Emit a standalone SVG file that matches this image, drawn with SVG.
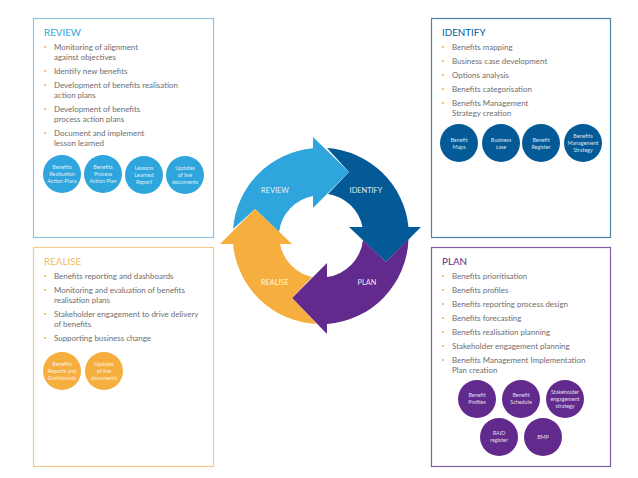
<svg xmlns="http://www.w3.org/2000/svg" width="638" height="478" viewBox="0 0 638 478">
<style>
text{font-family:"Lato","Open Sans","Liberation Sans",sans-serif}
.item{font-size:7.95px;fill:#6d6e71}
.title{font-size:9.8px}
.panel{fill:#fff;stroke-width:1.2}
.c{font-size:5.4px;fill:#fff;text-anchor:middle;fill-opacity:.85}
.ring{font-size:7.4px;fill:#fff;text-anchor:middle;fill-opacity:.9}
.b{fill:#f5b04a}
.blue{fill:#2fa5dd}.navy{fill:#045a97}.purple{fill:#622a8c}.orange{fill:#f6ae3f}
</style>
<rect width="638" height="478" fill="#fff"/>
<g id="review">
<rect class="panel" x="33.500" y="18.500" width="180" height="219" stroke="#8cc5db"/>
<text class="title" x="44" y="36" fill="#2fa5dd">REVIEW</text>
<circle class="b" cx="45" cy="47" r="1"/><text class="item" x="54" y="50">Monitoring of alignment</text><text class="item" x="54" y="60">against objectives</text>
<circle class="b" cx="45" cy="71" r="1"/><text class="item" x="54" y="74">Identify new benefits</text>
<circle class="b" cx="45" cy="85" r="1"/><text class="item" x="54" y="88">Development of benefits realisation</text><text class="item" x="54" y="98">action plans</text>
<circle class="b" cx="45" cy="109" r="1"/><text class="item" x="54" y="112">Development of benefits</text><text class="item" x="54" y="122">process action plans</text>
<circle class="b" cx="45" cy="133" r="1"/><text class="item" x="54" y="136">Document and implement</text><text class="item" x="54" y="146">lesson learned</text>
</g>
<g id="review-1"><circle class="blue" cx="62" cy="174" r="19"/><text class="c" x="62" y="169">Benefits</text><text class="c" x="62" y="176">Realisation</text><text class="c" x="62" y="183">Action Plans</text></g>
<g id="review-2"><circle class="blue" cx="103" cy="174" r="19"/><text class="c" x="103" y="169">Benefits</text><text class="c" x="103" y="176">Process</text><text class="c" x="103" y="183">Action Plan</text></g>
<g id="review-3"><circle class="blue" cx="144" cy="175" r="19"/><text class="c" x="144" y="170">Lessons</text><text class="c" x="144" y="177">Learned</text><text class="c" x="144" y="184">Report</text></g>
<g id="review-4"><circle class="blue" cx="185" cy="175" r="19"/><text class="c" x="185" y="170">Updates</text><text class="c" x="185" y="177">of live</text><text class="c" x="185" y="184">documents</text></g>

<g id="identify">
<rect class="panel" x="431.500" y="18.500" width="179" height="219" stroke="#4f81a3"/>
<text class="title" x="442" y="36" fill="#045a97">IDENTIFY</text>
<circle class="b" cx="443" cy="47" r="1"/><text class="item" x="452" y="50">Benefits mapping</text>
<circle class="b" cx="443" cy="61" r="1"/><text class="item" x="452" y="64">Business case development</text>
<circle class="b" cx="443" cy="75" r="1"/><text class="item" x="452" y="78">Options analysis</text>
<circle class="b" cx="443" cy="89" r="1"/><text class="item" x="452" y="92">Benefits categorisation</text>
<circle class="b" cx="443" cy="103" r="1"/><text class="item" x="452" y="106">Benefits Management</text><text class="item" x="452" y="116">Strategy creation</text>
</g>
<g id="identify-1"><circle class="navy" cx="459" cy="143" r="19"/><text class="c" x="459" y="142">Benefit</text><text class="c" x="459" y="149">Maps</text></g>
<g id="identify-2"><circle class="navy" cx="501" cy="143" r="19"/><text class="c" x="501" y="142">Business</text><text class="c" x="501" y="149">case</text></g>
<g id="identify-3"><circle class="navy" cx="541" cy="143" r="19"/><text class="c" x="541" y="142">Benefit</text><text class="c" x="541" y="149">Register</text></g>
<g id="identify-4"><circle class="navy" cx="583" cy="143" r="19"/><text class="c" x="583" y="138">Benefits</text><text class="c" x="583" y="145">Management</text><text class="c" x="583" y="152">Strategy</text></g>

<g id="realise">
<rect class="panel" x="33.500" y="247.500" width="180" height="219" stroke="#f0cb8a"/>
<text class="title" x="44" y="265" fill="#f0b860">REALISE</text>
<circle class="b" cx="45" cy="276" r="1"/><text class="item" x="54" y="279">Benefits reporting and dashboards</text>
<circle class="b" cx="45" cy="290" r="1"/><text class="item" x="54" y="293">Monitoring and evaluation of benefits</text><text class="item" x="54" y="303">realisation plans</text>
<circle class="b" cx="45" cy="314" r="1"/><text class="item" x="54" y="317">Stakeholder engagement to drive delivery</text><text class="item" x="54" y="327">of benefits</text>
<circle class="b" cx="45" cy="338" r="1"/><text class="item" x="54" y="341">Supporting business change</text>
</g>
<g id="realise-1"><circle class="orange" cx="62" cy="371" r="19"/><text class="c" x="62" y="366">Benefits</text><text class="c" x="62" y="373">Reports and</text><text class="c" x="62" y="380">Dashboards</text></g>
<g id="realise-2"><circle class="orange" cx="104" cy="371" r="19"/><text class="c" x="104" y="366">Updates</text><text class="c" x="104" y="373">of live</text><text class="c" x="104" y="380">documents</text></g>

<g id="plan">
<rect class="panel" x="431.500" y="247.500" width="179" height="219" stroke="#7f5fa3"/>
<text class="title" x="442" y="265" fill="#622a8c">PLAN</text>
<circle class="b" cx="443" cy="276" r="1"/><text class="item" x="452" y="279">Benefits prioritisation</text>
<circle class="b" cx="443" cy="290" r="1"/><text class="item" x="452" y="293">Benefits profiles</text>
<circle class="b" cx="443" cy="304" r="1"/><text class="item" x="452" y="307">Benefits reporting process design</text>
<circle class="b" cx="443" cy="318" r="1"/><text class="item" x="452" y="321">Benefits forecasting</text>
<circle class="b" cx="443" cy="332" r="1"/><text class="item" x="452" y="335">Benefits realisation planning</text>
<circle class="b" cx="443" cy="346" r="1"/><text class="item" x="452" y="349">Stakeholder engagement planning</text>
<circle class="b" cx="443" cy="360" r="1"/><text class="item" x="452" y="363">Benefits Management Implementation</text><text class="item" x="452" y="373">Plan creation</text>
</g>
<g id="plan-1"><circle class="purple" cx="477" cy="399" r="19"/><text class="c" x="477" y="397">Benefit</text><text class="c" x="477" y="404">Profiles</text></g>
<g id="plan-2"><circle class="purple" cx="521" cy="399" r="19"/><text class="c" x="521" y="397">Benefit</text><text class="c" x="521" y="404">Schedule</text></g>
<g id="plan-3"><circle class="purple" cx="565" cy="399" r="19"/><text class="c" x="565" y="394">Stakeholder</text><text class="c" x="565" y="401">engagement</text><text class="c" x="565" y="408">strategy</text></g>
<g id="plan-4"><circle class="purple" cx="499" cy="437" r="19"/><text class="c" x="499" y="435">RAID</text><text class="c" x="499" y="442">register</text></g>
<g id="plan-5"><circle class="purple" cx="543" cy="437" r="19"/><text class="c" x="543" y="439">BMP</text></g>

<g id="cycle">
<g id="arrow-review"><path class="blue" d="M233,229 A88,88 0 0 1 313,148.300 L313,137 L349,172 L313,208 L313,196 A42,42 0 0 0 279,232 L255,209 Z"/><text class="ring" x="275" y="193">REVIEW</text></g>
<g id="arrow-identify"><path class="navy" d="M327,148 A88,88 0 0 1 408.500,227 L421,227 L386,262 L349,227 L362.500,227 A42,42 0 0 0 328,194 L349,172 Z"/><text class="ring" x="366" y="193">IDENTIFY</text></g>
<g id="arrow-plan"><path class="purple" d="M408.500,239 A88,88 0 0 1 327,324 L327,334 L292,298 L327,263 L327,277 A42,42 0 0 0 363,240 L386,262 Z"/><text class="ring" x="367" y="285">PLAN</text></g>
<g id="arrow-realise"><path class="orange" d="M317,324 A88,88 0 0 1 233,244 L220,244 L255,209 L292,244 L280,244 A42,42 0 0 0 312,277 L292,298 Z"/><text class="ring" x="275" y="285">REALISE</text></g>
</g>
</svg>
